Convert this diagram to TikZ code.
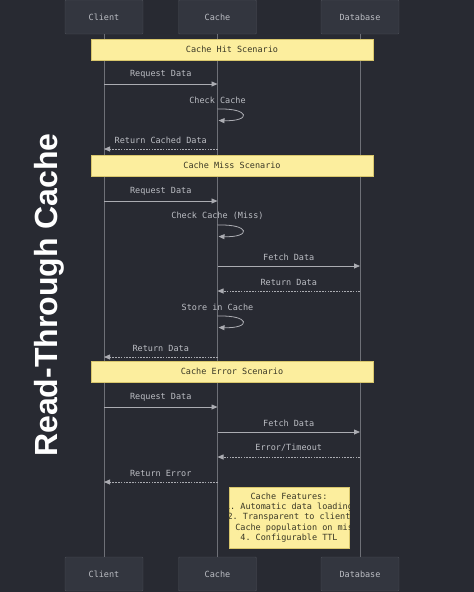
\documentclass[tikz,border=0pt]{standalone}
\usepackage{fontspec}
\setmonofont{DejaVu Sans Mono}
\newfontfamily\titlefont{Liberation Sans}
\usetikzlibrary{arrows.meta}

\definecolor{bgdark}{HTML}{282A32}
\definecolor{actorfill}{HTML}{33363F}
\definecolor{actorline}{HTML}{4C4F57}
\definecolor{actortext}{HTML}{BCBEC4}
\definecolor{lifegray}{HTML}{6E7077}
\definecolor{msggray}{HTML}{ABACB2}
\definecolor{notefill}{HTML}{FCEE9E}
\definecolor{noteline}{HTML}{D8C66C}
\definecolor{notetext}{HTML}{3A3826}

\tikzset{
  actor/.style={draw=actorline, fill=actorfill, text=actortext, minimum width=78pt, minimum height=34pt, rounded corners=1pt},
  lifeline/.style={draw=lifegray, line width=0.7pt},
  msgline/.style={draw=msggray, line width=0.8pt, text=actortext},
  reply/.style={dash pattern=on 1.6pt off 1.2pt},
  note/.style={draw=noteline, fill=notefill, text=notetext, minimum height=21pt, line width=0.5pt},
}

% message between two lifelines at height #4
\newcommand{\msg}[5][]{\draw[->, msgline, #1] (#2 |- 0,#4) -- node[above=2pt] {#5} (#3 |- 0,#4);}
% message from a lifeline to itself
\newcommand{\selfmsg}[4]{%
  \node[text=actortext] (#4) at (#1 |- 0,#2-9) {#3};
  \draw[->, msgline] (#1 |- 0,#2) .. controls +(33,-1) and +(33,1) .. ([xshift=1pt]#1 |- 0,#2+11.5);}

\begin{document}
\begin{tikzpicture}[x=1pt, y=-1pt, >={Triangle[length=6pt,width=5pt]}, font=\ttfamily\fontsize{8.5}{10.3}\selectfont]
        % Background
        \fill[bgdark] (0,0) rectangle (474,592);
        \clip (0,0) rectangle (474,592);

        % Participants
        \node[actor] (client-top) at (104,17) {Client};
        \node[actor] (cache-top) at (217.5,17) {Cache};
        \node[actor] (db-top) at (360,17) {Database};
        \node[actor] (client-bot) at (104,574) {Client};
        \node[actor] (cache-bot) at (217.5,574) {Cache};
        \node[actor] (db-bot) at (360,574) {Database};

        % Lifelines
        \draw[lifeline] (client-top) -- (client-bot);
        \draw[lifeline] (cache-top) -- (cache-bot);
        \draw[lifeline] (db-top) -- (db-bot);

        % Title
        \node[rotate=90, text=white, font=\titlefont\bfseries\fontsize{32}{38}\selectfont] (title) at (49,295) {Read-Through Cache};

        % Cache hit
        \node[note, minimum width=282pt] (hit-note) at (232,49.5) {Cache Hit Scenario};
        \msg{client-top}{cache-top}{84}{Request Data}
        \selfmsg{cache-top}{109}{Check Cache}{hit-check}
        \msg[reply]{cache-top}{client-top}{149}{Return Cached Data}

        % Cache miss
        \node[note, minimum width=282pt] (miss-note) at (232,165.5) {Cache Miss Scenario};
        \msg{client-top}{cache-top}{201}{Request Data}
        \selfmsg{cache-top}{225}{Check Cache (Miss)}{miss-check}
        \msg{cache-top}{db-top}{266}{Fetch Data}
        \msg[reply]{db-top}{cache-top}{291}{Return Data}
        \selfmsg{cache-top}{316}{Store in Cache}{miss-store}
        \msg[reply]{cache-top}{client-top}{357}{Return Data}

        % Cache error
        \node[note, minimum width=282pt] (error-note) at (232,371.5) {Cache Error Scenario};
        \msg{client-top}{cache-top}{407}{Request Data}
        \msg{cache-top}{db-top}{432}{Fetch Data}
        \msg[reply]{db-top}{cache-top}{457}{Error/Timeout}
        \msg[reply]{cache-top}{client-top}{482}{Return Error}

        % Features note
        \node[note, minimum width=120pt, minimum height=61pt] (features) at (289,517.5) {};
        \begin{scope}
          \clip (features.south west) rectangle (features.north east);
          \node[text=notetext, align=center] (features-text) at (features.center)
            {Cache Features:\\1. Automatic data loading\\2. Transparent to client\\3. Cache population on miss\\4. Configurable TTL};
        \end{scope}
    \end{tikzpicture}
\end{document}
